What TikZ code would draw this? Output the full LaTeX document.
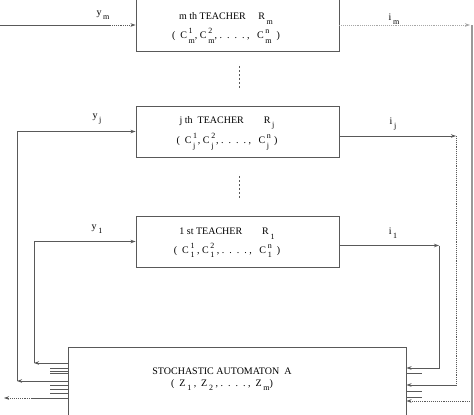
\documentclass[tikz,border=0pt]{standalone}
\usepackage{amsmath}
\usepackage{fontspec}
\setmainfont{Liberation Serif}
\usetikzlibrary{arrows.meta}
\newcommand{\sbsp}[2]{\,\makebox[0pt][l]{\raisebox{5pt}{\footnotesize #1}}\raisebox{-4.5pt}{\footnotesize #2}}
\newcommand{\sbonly}[1]{\,\raisebox{-4.5pt}{\footnotesize #1}}
\newcommand{\fourdots}{.\ \ .\ \ .\ \ .}

\begin{document}
\begin{tikzpicture}[x=1pt,y=1pt]
\tikzstyle{every node}+=[inner sep=0pt]
\tikzstyle{line}=[draw=black!65,line width=0.9pt]
\tikzstyle{arr}=[line,-{Stealth[length=5pt,width=3.5pt]}]
\tikzstyle{box}=[line,rectangle,minimum width=203pt,minimum height=51pt]
\tikzstyle{boxtext}=[align=center,font=\normalsize]
\useasboundingbox (0,0) rectangle (474,-415);
% teachers and automaton
\node [box,minimum height=55pt] (tm) at (237.5,-23.5) {};
\node [box] (tj) at (237.5,-131.5) {};
\node [box] (t1) at (237.5,-241.5) {};
\node [line,rectangle,minimum width=338pt,minimum height=78pt] (auto) at (237,-386) {};
\node [boxtext] (tm-txt) at (226,-28) {m th TEACHER\quad\ R\sbonly{m}\\[3pt](\ \ C\sbsp{1}{m},\ C\sbsp{2}{m},\ \fourdots\ ,\ \ \ C\sbsp{n}{m}\ \ )};
\node [boxtext] (tj-txt) at (227,-133) {j th\ \ TEACHER\qquad R\sbonly{j}\\[3pt](\ \ C\sbsp{1}{j}\ ,\ C\sbsp{2}{j}\ ,\ \fourdots\ ,\ \ \ C\sbsp{n}{j}\ \ )};
\node [boxtext] (t1-txt) at (227,-243) {1 st TEACHER\qquad R\sbonly{1}\\[3pt](\ \ C\sbsp{1}{1}\ ,\ C\sbsp{2}{1}\ ,\ \fourdots\ ,\ \ \ C\sbsp{n}{1}\ \ )};
\node [boxtext] (auto-txt) at (222,-379) {STOCHASTIC AUTOMATON\ \ A\\(\ \ Z\sbonly{1}\ ,\ \ Z\sbonly{2}\ ,\ \fourdots\ ,\ \ Z\sbonly{m})};
% dots between teachers
\draw [line,dash pattern=on 1.5pt off 2.5pt] (239,-66) -- (239,-90);
\draw [line,dash pattern=on 1.5pt off 2.5pt] (239,-176) -- (239,-199);
% outputs of the automaton
\coordinate (c1) at (34,-363);
\coordinate (cj) at (17,-381);
\coordinate (cm) at (4,-398);
\draw [arr] (auto.west |- c1) -- (c1);
\draw [arr] (c1) |- (t1.west);
\draw [arr] (auto.west |- cj) -- (cj);
\draw [arr] (cj) |- (tj.west);
\draw [line] (auto.west |- cm) -- (32,-398);
\draw [arr,densely dotted] (32,-398) -- (cm);
\coordinate (ym) at (0,-25);
\draw [line] (ym) -- (110,-25);
\draw [arr,densely dotted] (110,-25) -- (tm.west |- ym);
\node (ym-lbl) at (103,-15) {y\sbonly{m}};
\node (yj-lbl) at (97,-119) {y\sbonly{j}};
\node (y1-lbl) at (97,-229) {y\sbonly{1}};
% responses of the teachers
\coordinate (d1) at (439,-245.5);
\coordinate (dj) at (456,-136);
\coordinate (dm) at (470,-25);
\draw [arr] (t1.east |- d1) -- (d1);
\draw [arr] (d1) |- (auto.east |- 0,-368);
\draw [arr] (tj.east |- dj) -- (dj);
\draw [line,densely dotted] (dj) -- (dj |- 0,-385);
\draw [arr] (dj |- 0,-385) -- (auto.east |- 0,-385);
\draw [arr,draw=black!35,densely dotted] (tm.east |- dm) -- (dm);
\draw [line,draw=black!40,line width=1.6pt] (472,-25) -- (472,-415);
\draw [arr,densely dotted] (470,-401) -- (auto.east |- 0,-401);
\node (im-lbl) at (394,-19) {i\sbonly{m}};
\node (ij-lbl) at (393,-124) {i\sbonly{j}};
\node (i1-lbl) at (393,-233) {i\sbonly{1}};
% short lines at the sides of the automaton
\foreach \y in {368,371,373,385,389,393}
  \draw [line] (50,-\y) -- (auto.west |- 0,-\y);
\foreach \y in {373,391,397}
  \draw [line] (auto.east |- 0,-\y) -- (422,-\y);
\end{tikzpicture}
\end{document}
